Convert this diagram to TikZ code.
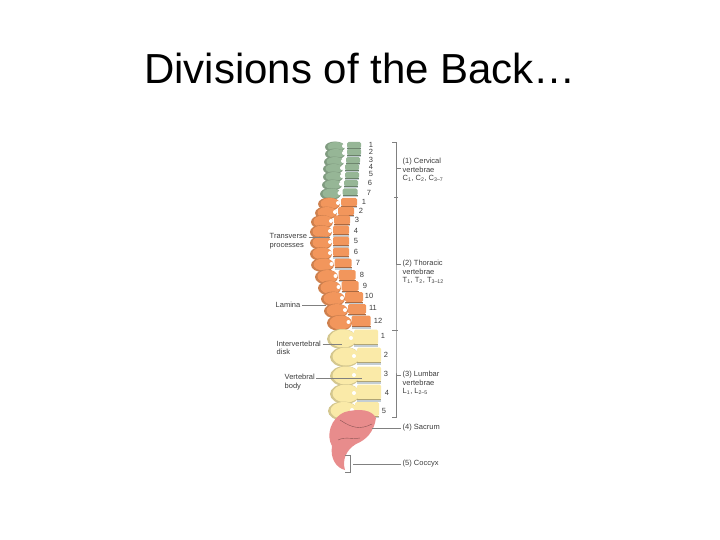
\documentclass[tikz,border=0pt]{standalone}
\usepackage{fontspec}
\setmainfont{Liberation Sans}
\definecolor{cerv}{RGB}{150,182,150}
\definecolor{thor}{RGB}{242,150,92}
\definecolor{lumb}{RGB}{250,234,168}
\definecolor{sacr}{RGB}{232,140,140}
\definecolor{disk}{RGB}{196,206,212}
\definecolor{lbl}{RGB}{60,60,60}
\begin{document}
\begin{tikzpicture}[x=1pt,y=-1pt,
  lab/.style={font=\fontsize{7.5}{8.5}\selectfont,text=lbl,align=left,inner sep=1.5pt},
  num/.style={font=\fontsize{7.5}{8}\selectfont,text=lbl,inner sep=0pt},
  lead/.style={draw=gray,line width=0.5pt}]
\useasboundingbox (0,0) rectangle (720,540);
\node[font=\fontsize{42}{46}\selectfont] (title) at (360,68) {Divisions of the Back…};
% vertebrae
\foreach \x/\y/\w/\h/\c in {
 354/145/14/6/cerv,354/152/14/6/cerv,353/160/14/6/cerv,352/167/14/6/cerv,352/175/14/6/cerv,351/183/14/6/cerv,350/192/15/7/cerv,
 349/202/16/8/thor,346/211/16/8/thor,342/220/16/9/thor,341/230/16/9/thor,341/241/16/9/thor,341/252/16/9/thor,343/263/17/9/thor,347/275/17/10/thor,350/286/17/10/thor,354/297/18/10/thor,357/309/18/10/thor,361/321/19/11/thor,
 366/337/24/15/lumb,369/355/24/15/lumb,369/374/24/15/lumb,369/392/24/15/lumb,367/409/24/14/lumb}{
  \fill[\c!85!black] (\x-\w/2-12,\y+2) ellipse ({\w/2+3} and {\h/2+2.5});
  \fill[\c] (\x-\w/2-11,\y+1.5) ellipse ({\w/2+1.5} and {\h/2+1.5});
  \fill[white] (\x-\w/2-3,\y+1) circle (2);
  \fill[disk] (\x-\w/2,\y+\h/2-0.5) rectangle (\x+\w/2,\y+\h/2+2);
  \fill[\c] (\x-\w/2,\y-\h/2) [rounded corners=1.5pt] rectangle (\x+\w/2,\y+\h/2);
  \draw[\c!70!black,line width=0.3pt] (\x-\w/2,\y+\h/2) -- (\x+\w/2,\y+\h/2);
}
% sacrum and coccyx
\fill[sacr] (345,412) .. controls (360,408) and (372,410) .. (376,418)
  .. controls (374,432) and (366,440) .. (356,444)
  .. controls (346,450) and (342,460) .. (345,470)
  .. controls (336,468) and (330,458) .. (332,446)
  .. controls (326,436) and (330,418) .. (345,412) -- cycle;
\draw[sacr!60!black,line width=0.4pt] (340,420) .. controls (352,428) and (360,430) .. (372,424);
\draw[sacr!60!black,line width=0.4pt] (338,440) .. controls (346,436) and (354,440) .. (360,438);
% numbers
\foreach \n/\x/\y [count=\i] in {1/371/145,2/371/152,3/371/160,4/371/167,5/371/174,6/370/183,7/369/193}
  \node[num] (c\i) at (\x,\y) {\n};
\foreach \n/\x/\y [count=\i] in {1/364/202,2/361/211,3/357/220,4/356/231,5/356/241,6/356/252,7/358/263,8/362/275,9/365/286,10/369/296,11/373/308,12/378/321}
  \node[num] (t\i) at (\x,\y) {\n};
\foreach \n/\x/\y [count=\i] in {1/383/336,2/386/355,3/386/374,4/387/393,5/384/411}
  \node[num] (l\i) at (\x,\y) {\n};
% brackets
\coordinate (b0) at (396,142); \coordinate (b1) at (396,197);
\coordinate (b2) at (396,330); \coordinate (b3) at (396,417);
\draw[lead] ([xshift=-4]b0) -- (b0) -- (b1);
\draw[lead] ([xshift=-2]b1) -- ([xshift=2]b1);
\draw[lead] (b1) -- (b2) -- (b3) -- ([xshift=-4]b3);
\draw[lead] ([xshift=-4]b2) -- ([xshift=2]b2);
\node[lab,anchor=west] (cv) at (401,170) {(1) Cervical\\vertebrae\\C\textsubscript{1}, C\textsubscript{2}, C\textsubscript{3–7}};
\node[lab,anchor=west] (th) at (401,272) {(2) Thoracic\\vertebrae\\T\textsubscript{1}, T\textsubscript{2}, T\textsubscript{3–12}};
\node[lab,anchor=west] (lu) at (401,383) {(3) Lumbar\\vertebrae\\L\textsubscript{1}, L\textsubscript{2–5}};
\draw[lead] (396,168) -- (cv.west|-396,168);
\draw[lead] (396,264) -- (th.west|-396,264);
\draw[lead] (396,375) -- (lu.west|-396,375);
\node[lab,anchor=west] (sa) at (401,428) {(4) Sacrum};
\coordinate (saP) at (372,428);
\draw[lead] (saP) -- (sa.west);
\node[lab,anchor=west] (co) at (401,464) {(5) Coccyx};
\coordinate (coP) at (353,464);
\draw[lead] (coP) -- (co.west);
\draw[lead] (345,455) -- (350,455) -- (350,472) -- (345,472);
% left labels
\node[lab,anchor=west] (tp) at (268,241) {Transverse\\processes};
\coordinate (tpP) at (330,237);
\draw[lead] (tp.east|-tpP) -- (tpP);
\node[lab,anchor=west] (la) at (274,305) {Lamina};
\coordinate (laP) at (326,305);
\draw[lead] (la.east) -- (laP);
\node[lab,anchor=west] (id) at (275,348) {Intervertebral\\disk};
\coordinate (idP) at (342,344);
\draw[lead] (id.east|-idP) -- (idP);
\node[lab,anchor=west] (vb) at (283,382) {Vertebral\\body};
\coordinate (vbP) at (362,378);
\draw[lead] (vb.east|-vbP) -- (vbP);
\end{tikzpicture}
\end{document}
